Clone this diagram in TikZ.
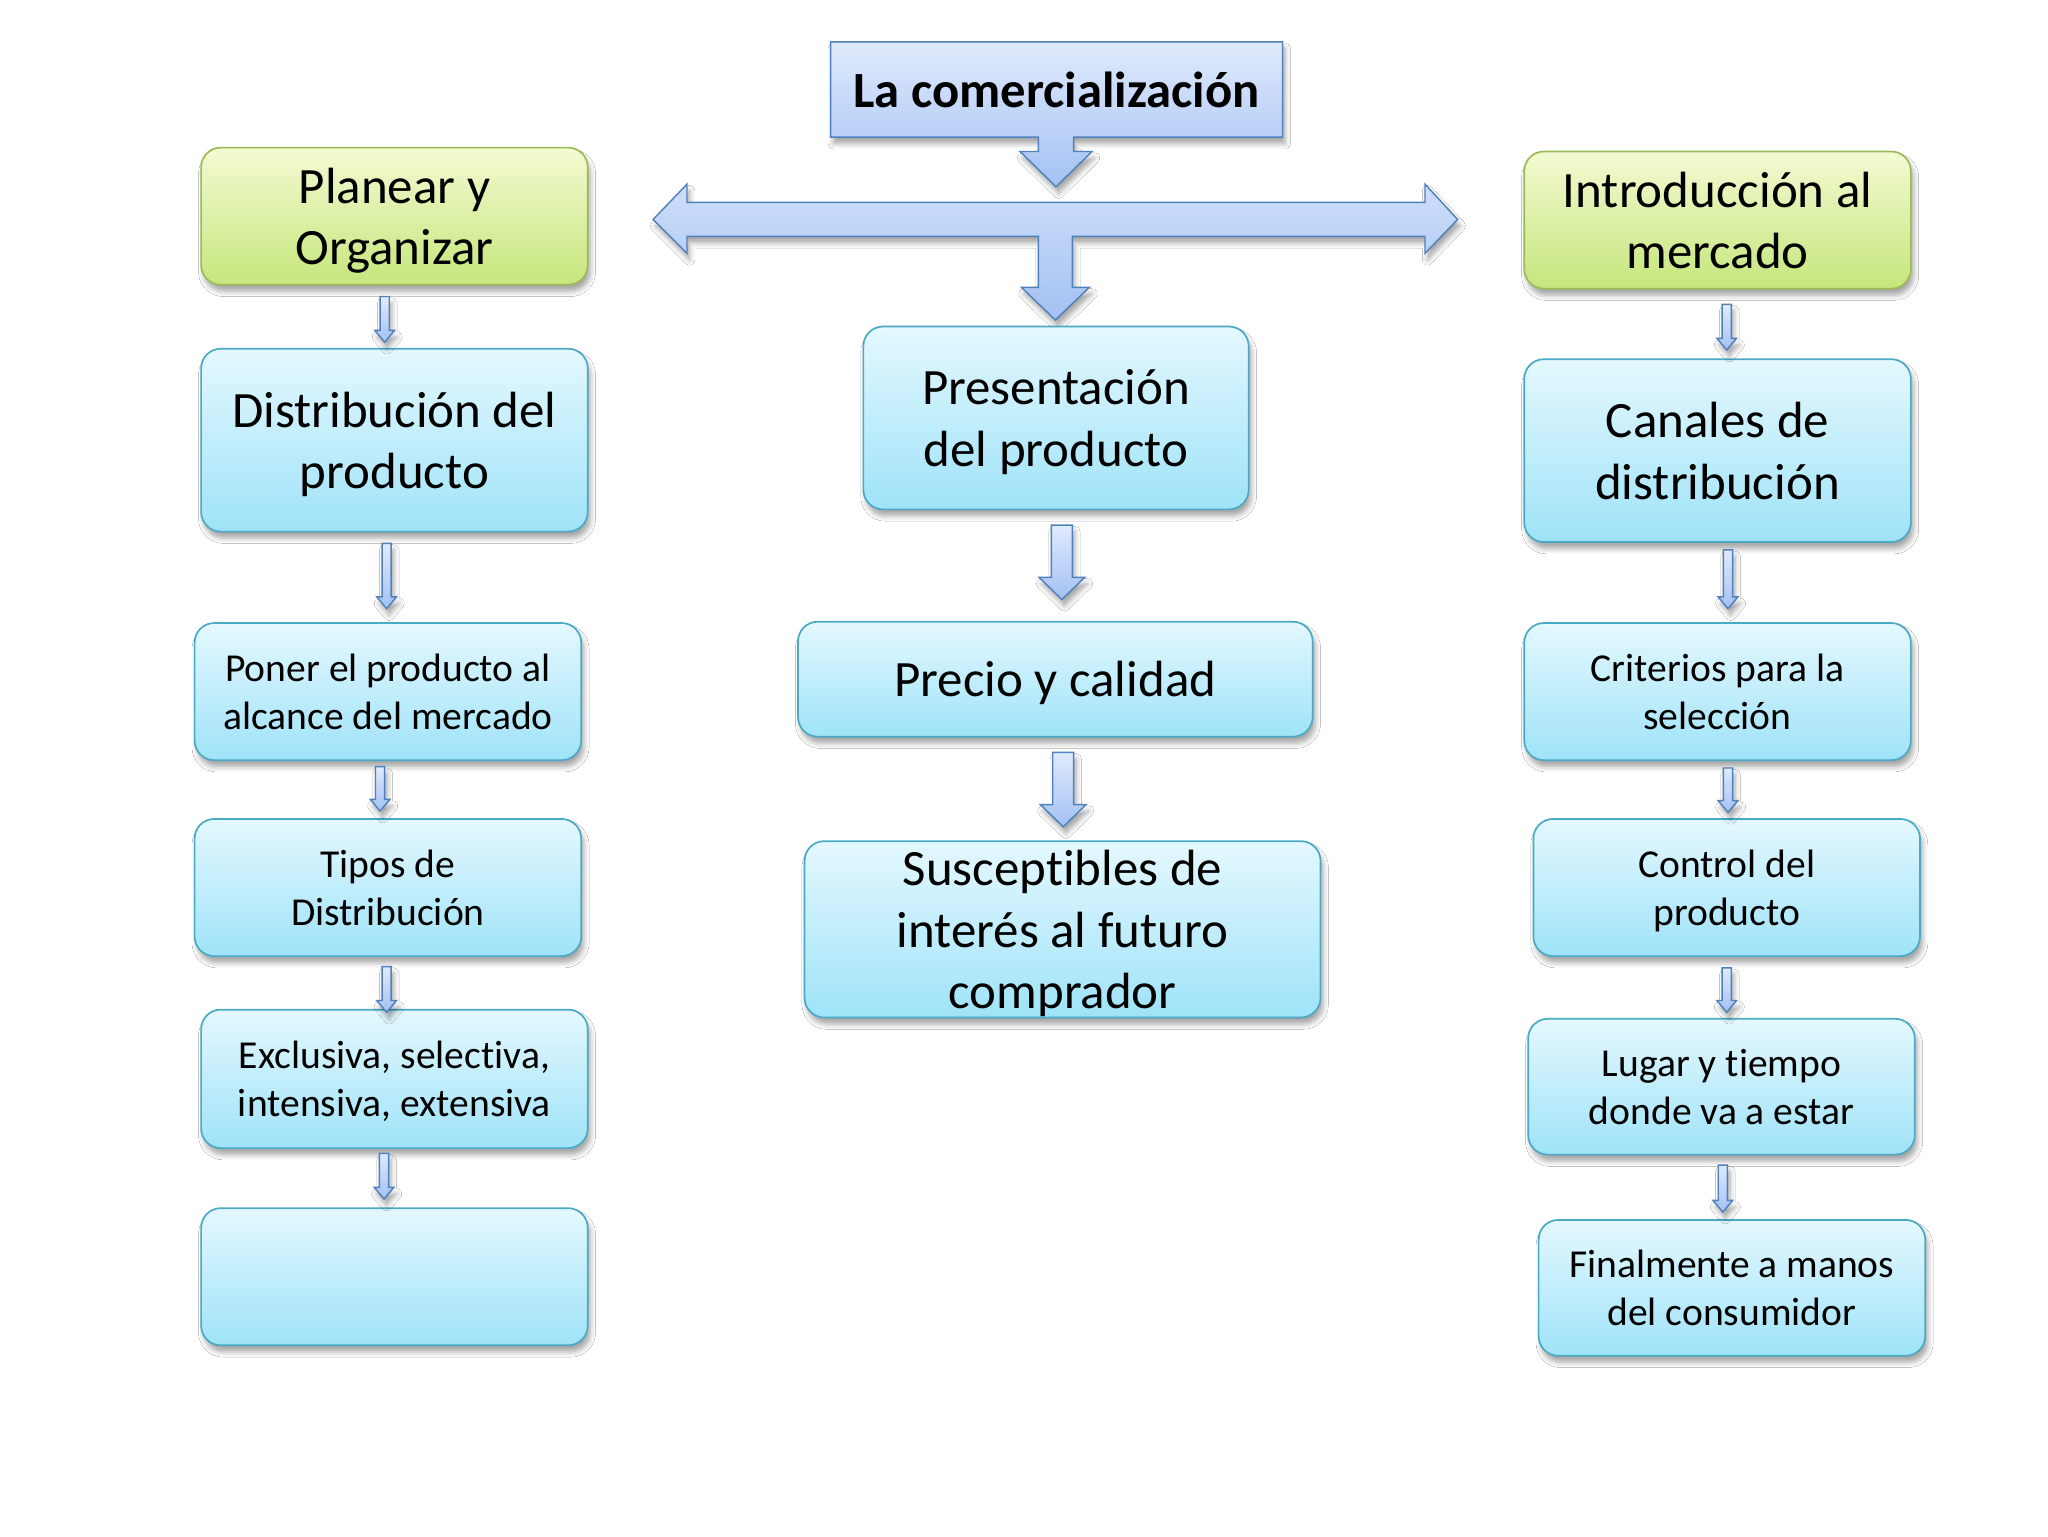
\documentclass[tikz,border=0pt]{standalone}
\usepackage{fontspec}
\setmainfont{Carlito}[Ligatures=CommonOff]
\usetikzlibrary{shadows,shadows.blur}
\definecolor{bluetop}{HTML}{E4F8FE}
\definecolor{bluebot}{HTML}{9FE3F8}
\definecolor{bluedraw}{HTML}{4AA9C4}
\definecolor{greentop}{HTML}{F3FAD2}
\definecolor{greenbot}{HTML}{C6E67C}
\definecolor{greendraw}{HTML}{9BBB59}
\definecolor{artop}{HTML}{E0EAFC}
\definecolor{arbot}{HTML}{A3C1F3}
\definecolor{ardraw}{HTML}{4F81BD}
\newcommand\fbig{\fontsize{39}{47}\selectfont}
\newcommand\fsmall{\fontsize{30.3}{36.5}\selectfont}
\newcommand\ftitle{\fontsize{38.8}{44}\selectfont\bfseries}
\tikzset{
  myshadow/.style={blur shadow={shadow xshift=2pt, shadow yshift=-5pt, shadow blur radius=4pt, shadow opacity=35}},
  boxbase/.style={rounded corners=15pt, line width=1.3pt, minimum width=296pt, minimum height=105pt, align=center, inner sep=0pt, text depth=0pt, text=black, myshadow},
  bluebox/.style={boxbase, draw=bluedraw, top color=bluetop, bottom color=bluebot},
  greenbox/.style={boxbase, draw=greendraw, top color=greentop, bottom color=greenbot},
  arrowshape/.style={draw=ardraw, line width=1.1pt, line join=miter, top color=artop, bottom color=arbot, myshadow},
}
% block arrow pointing down: cx, ytop, ybot, shaft half, head half, head length
\newcommand\dnarrow[6]{%
  \path[arrowshape] (#1-#4,#2) -- (#1+#4,#2) -- (#1+#4,#3-#6) -- (#1+#5,#3-#6) -- (#1,#3)
    -- (#1-#5,#3-#6) -- (#1-#4,#3-#6) -- cycle;}
\begin{document}
\begin{tikzpicture}[x=1pt,y=-1pt]
\useasboundingbox[fill=white] (0,0) rectangle (1568,1176);

% title callout
\path[arrowshape] (636,32) -- (982,32) -- (982,105) -- (822,105) -- (822,116) -- (836,116)
  -- (808.5,143) -- (781,116) -- (795,116) -- (795,105) -- (636,105) -- cycle;
\node[font=\ftitle] (title) at (809,69) {La comercialización};

% cross arrow
\path[arrowshape, top color=artop!70!arbot] (500,168) -- (526,141) -- (526,155) -- (1091,155) -- (1091,141)
  -- (1116,168) -- (1091,194) -- (1091,181) -- (821,181) -- (821,220) -- (834,220)
  -- (808,245) -- (782,220) -- (795,220) -- (795,181) -- (526,181) -- (526,194) -- cycle;

% left column
\node[greenbox, font=\fbig] (l1) at (302,165.5) {Planear y\\Organizar};
\node[bluebox, font=\fbig, minimum height=140pt] (l2) at (302,337) {Distribución del\\producto};
\node[bluebox, font=\fsmall] (l3) at (297,529.5) {Poner el producto al\\alcance del mercado};
\node[bluebox, font=\fsmall] (l4) at (297,679.5) {Tipos de\\Distribución};
\node[bluebox, font=\fsmall, minimum height=106pt] (l5) at (302,826) {Exclusiva, selectiva,\\intensiva, extensiva};
\node[bluebox] (l6) at (302,977.5) {};

% middle column
\node[bluebox, font=\fbig, minimum width=295pt, minimum height=140pt] (m1) at (808.5,320) {Presentación\\del producto};
\node[bluebox, font=\fbig, minimum width=394pt, minimum height=88pt] (m2) at (808,520) {Precio y calidad};
\node[bluebox, font=\fbig, minimum width=395pt, minimum height=135pt] (m3) at (813.5,711.5) {Susceptibles de\\interés al futuro\\comprador};

% right column
\node[greenbox, font=\fbig] (r1) at (1315,168.5) {Introducción al\\mercado};
\node[bluebox, font=\fbig, minimum height=140pt] (r2) at (1315,345) {Canales de\\distribución};
\node[bluebox, font=\fsmall] (r3) at (1315,529.5) {Criterios para la\\selección};
\node[bluebox, font=\fsmall] (r4) at (1322,679.5) {Control del\\producto};
\node[bluebox, font=\fsmall, minimum height=104pt] (r5) at (1318,832) {Lugar y tiempo\\donde va a estar};
\node[bluebox, font=\fsmall, minimum height=104pt] (r6) at (1326,986) {Finalmente a manos\\del consumidor};

% small arrows, left
\dnarrow{294.5}{227}{262}{3.5}{7.5}{9}
\dnarrow{296}{416}{466}{3.5}{7.5}{9}
\dnarrow{291}{587}{621}{3.5}{7.5}{9}
\dnarrow{296}{740}{775}{3.5}{7.5}{9}
\dnarrow{294}{883}{918}{3.5}{7.5}{9}
% middle arrows
\dnarrow{813}{402}{459}{8}{17.5}{17}
\dnarrow{814}{576}{633}{8}{17.5}{17}
% small arrows, right
\dnarrow{1322}{233}{268}{3.5}{7.5}{9}
\dnarrow{1323}{421}{466}{3.5}{7.5}{9}
\dnarrow{1323}{588}{622}{3.5}{7.5}{9}
\dnarrow{1322}{741}{775}{3.5}{7.5}{9}
\dnarrow{1319}{892}{928}{3.5}{7.5}{9}
\end{tikzpicture}
\end{document}
